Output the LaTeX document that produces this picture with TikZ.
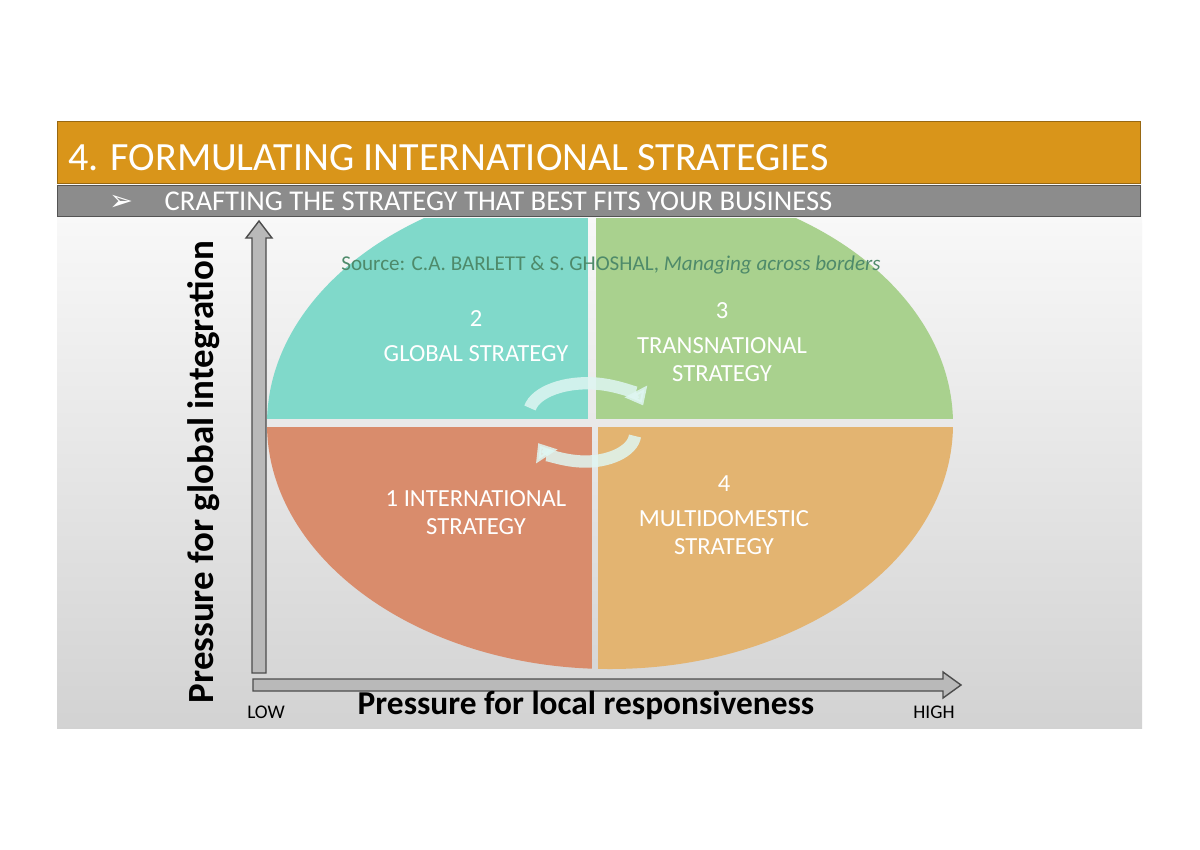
\documentclass[tikz,border=0pt]{standalone}
\usepackage{fontspec}
\setmainfont{Carlito}
\usetikzlibrary{arrows.meta}
\definecolor{hdr}{HTML}{D9951A}
\definecolor{sub}{HTML}{8C8C8C}
\definecolor{qteal}{HTML}{80D9CA}
\definecolor{qgreen}{HTML}{A9D18E}
\definecolor{qsalmon}{HTML}{D98C6C}
\definecolor{qorange}{HTML}{E3B471}
\definecolor{srcc}{HTML}{4E8A6A}
\tikzset{qtext/.style={text=white,align=center,font=\fontsize{14}{16}\selectfont},
 axisarrow/.style={draw=gray!60!black,line width=0.8pt,fill=gray!55},
 cyc/.style={white!75!qteal,line width=7pt,opacity=0.85,-{Triangle[length=9pt,width=14pt]}}}
\begin{document}
\begin{tikzpicture}[x=0.02cm,y=-0.02cm]
\useasboundingbox[fill=white] (0,0) rectangle (1200,849);
\shade[top color=white,bottom color=gray!35] (57,120) rectangle (1142,728);
% header
\node[draw=hdr!70!black,fill=hdr,minimum width=1083*0.02cm,minimum height=62*0.02cm,inner sep=0pt,anchor=north west] (hdr) at (57,121) {};
\node[anchor=west,text=white,font=\fontsize{22.8}{26}\selectfont] (title) at (62,158) {4. FORMULATING INTERNATIONAL STRATEGIES};
\node[draw=sub!60!black,fill=sub,minimum width=1083*0.02cm,minimum height=31*0.02cm,inner sep=0pt,anchor=north west] (sbar) at (57,185) {};
\node[anchor=west,text=white,font=\fontsize{16.3}{18}\selectfont] (sub) at (103,201) {\fontspec{DejaVu Sans}➢\hspace{1.1em}\fontspec{Carlito}CRAFTING THE STRATEGY THAT BEST FITS YOUR BUSINESS};
% quadrants
\begin{scope}
\clip (267,218) rectangle (960,680);
\clip (610,424) ellipse [x radius=343,y radius=245];
\fill[qteal] (200,150) rectangle (588,419);
\fill[qgreen] (596,150) rectangle (1000,419);
\fill[qsalmon] (200,427) rectangle (592,700);
\fill[qorange] (598,427) rectangle (1000,700);
\end{scope}
% circular arrows
\draw[cyc] (530,408) arc[start angle=-170,end angle=-15,x radius=58,y radius=30];
\draw[cyc] (635,436) arc[start angle=5,end angle=160,x radius=50,y radius=28];
% texts
\node[text=srcc,font=\fontsize{12}{14}\selectfont] (src) at (611,265) {Source: C.A. BARLETT \& S. GHOSHAL, \textit{Managing across borders}};
\node[qtext] (q2) at (476,336) {2\\[4pt]GLOBAL STRATEGY};
\node[qtext] (q3) at (722,342) {3\\[4pt]TRANSNATIONAL\\STRATEGY};
\node[qtext] (q1) at (476,513) {1 INTERNATIONAL\\STRATEGY};
\node[qtext] (q4) at (724,515) {4\\[4pt]MULTIDOMESTIC\\STRATEGY};
% axes
\draw[axisarrow] (252,673) -- (252,238) -- (246,238) -- (259,221) -- (272,238) -- (266,238) -- (266,673) -- cycle;
\draw[axisarrow] (253,679) -- (943,679) -- (943,672) -- (961,685) -- (943,698) -- (943,691) -- (253,691) -- cycle;
\node[rotate=90,font=\fontsize{21}{24}\selectfont\bfseries,text=black] (ylab) at (204,472) {Pressure for global integration};
\node[font=\fontsize{19}{22}\selectfont\bfseries] (xlab) at (586,705) {Pressure for local responsiveness};
\node[font=\fontsize{11}{13}\selectfont] (low) at (266,712) {LOW};
\node[font=\fontsize{11}{13}\selectfont] (high) at (934,712) {HIGH};
\end{tikzpicture}
\end{document}
